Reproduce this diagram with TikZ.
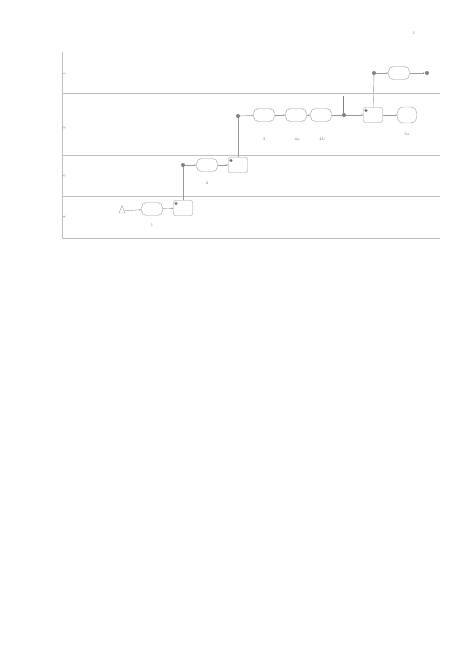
\documentclass[tikz,border=0pt]{standalone}
\usepackage{tikz}
\usetikzlibrary{arrows.meta,positioning,shapes.geometric}
\begin{document}
\begin{tikzpicture}[x=1pt,y=-1pt,->,>={Stealth[length=2pt,width=1.6pt]},thin,
			task node/.style={draw=black!40,rounded corners=5pt,minimum width=21pt,minimum height=13pt,inner sep=0pt},
			user node/.style={draw=black!40,rounded corners=2pt,minimum width=19pt,minimum height=15pt,inner sep=0pt,
				path picture={\fill[black!55] ([xshift=2.5pt,yshift=-3pt]path picture bounding box.north west) circle (1.6pt);}},
			dot node/.style={circle,fill=black!50,inner sep=0pt,minimum size=4pt},
			start node/.style={draw=black!40,isosceles triangle,shape border rotate=90,inner sep=0pt,minimum size=6pt},
			tag/.style={font=\fontsize{4}{4}\selectfont,text=black!55,inner sep=0.5pt}]
			\useasboundingbox (0,0) rectangle (474,670);
			% lanes
			\draw[-,black!25,line width=0.7pt] (62,52) -- (62,238);
			\foreach \y in {93,155,196,238} \draw[-,black!25,line width=0.7pt] (62,\y) -- (440,\y);
			\node[tag,rotate=90] (l1) at (64,74) {1};
			\node[tag,rotate=90] (l2) at (64,128) {2};
			\node[tag,rotate=90] (l3) at (64,176) {3};
			\node[tag,rotate=90] (l4) at (64,217) {4};
			\node[tag] (pg) at (414,33) {1};
			% lane 4
			\node[start node] (1) at (122,211) {};
			\node[task node] (2) at (152,209) {};
			\node[user node] (3) at (183,208) {};
			% lane 3
			\node[dot node] (4) at (183,165) {};
			\node[task node] (5) at (207,165) {};
			\node[user node] (6) at (238,165) {};
			% lane 2
			\node[dot node] (7) at (238,116) {};
			\node[task node] (8) at (264,115) {};
			\node[task node] (9) at (296,115) {};
			\node[task node] (10) at (321,115) {};
			\node[dot node] (11) at (344,115) {};
			\node[user node] (12) at (373,115) {};
			\node[task node,minimum width=19pt,minimum height=16pt,rounded corners=6pt] (13) at (407,115) {};
			% lane 1
			\node[dot node] (14) at (374,73) {};
			\node[task node] (15) at (399,73) {};
			\node[dot node] (16) at (427,73) {};
			% tags
			\node[tag] at (152,225) {1};
			\node[tag] at (207,183) {2};
			\node[tag] at (264,139) {3};
			\node[tag] at (297,139) {4a};
			\node[tag] at (322,139) {4b};
			\node[tag] at (407,134) {5a};
			\coordinate (m) at (344,96);
			\draw[-,black!50,double=white,double distance=0.5pt,line width=0.4pt] (m) -- (11);
			\path[draw=black!40] (1) -- (2);
			\path[draw=black!40] (2) -- (3);
			\path[draw=black!40,-] (3) -- (4);
			\path[draw=black!40] (4) -- (5);
			\path[draw=black!40] (5) -- (6);
			\path[draw=black!40,-] (6) -- (7);
			\path[draw=black!40] (7) -- (8);
			\path[draw=black!40] (8) -- (9);
			\path[draw=black!40] (9) -- (10);
			\path[draw=black!40,-] (10) -- (11);
			\path[draw=black!40] (11) -- (12);
			\path[draw=black!40] (12) -- (13);
			\path[draw=black!40,-] (12) -- (14);
			\path[draw=black!40] (14) -- (15);
			\path[draw=black!40] (15) -- (16);
		\end{tikzpicture}
\end{document}
